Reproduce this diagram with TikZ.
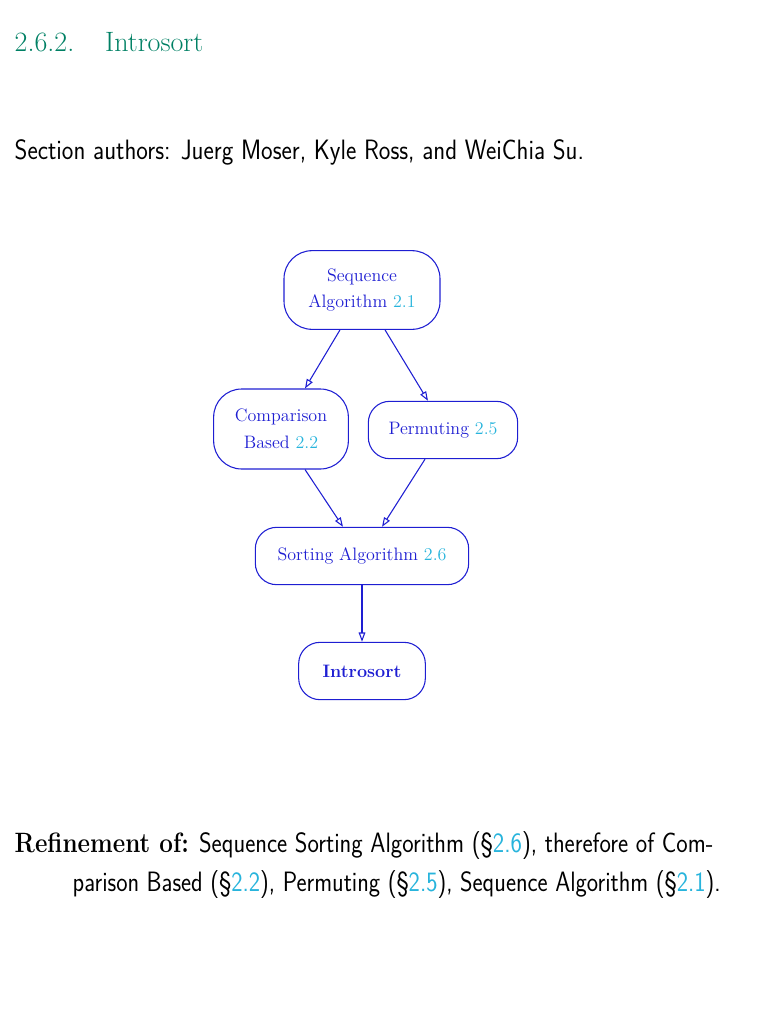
\documentclass[tikz,border=0pt]{standalone}
\usetikzlibrary{arrows.meta}
\usepackage{graphicx}
\definecolor{nb}{RGB}{30,30,210}
\definecolor{lk}{RGB}{40,180,220}
\definecolor{hd}{RGB}{0,128,100}
\begin{document}
\begin{tikzpicture}[x=0.75pt,y=-0.75pt,
  box/.style={draw=nb,text=nb,rounded corners=21pt,align=center,font=\fontsize{13.5}{20}\selectfont,line width=0.8pt},
  arr/.style={draw=nb,line width=0.8pt,-{Triangle[open,length=7pt,width=5pt]}}]
\useasboundingbox (0,0) rectangle (768,1024);
\node[anchor=west,text=hd,font=\fontsize{21}{24}\selectfont] (h) at (10,42) {2.6.2.\hspace{1.1em}Introsort};
\node[anchor=west,font=\sffamily\fontsize{21}{24}\selectfont] (a) at (10,152) {\resizebox{427pt}{\height}{Section authors: Juerg Moser, Kyle Ross, and WeiChia Su.}};
\node[box,minimum width=117pt,minimum height=59pt] (s) at (362,290) {Sequence\\Algorithm \textcolor{lk}{2.1}};
\node[box,minimum width=101pt,minimum height=60pt] (c) at (281,429) {Comparison\\Based \textcolor{lk}{2.2}};
\node[box,minimum width=112pt,minimum height=43pt,rounded corners=16pt] (p) at (443,430) {Permuting \textcolor{lk}{2.5}};
\node[box,minimum width=160pt,minimum height=43pt,rounded corners=16pt] (o) at (362,556) {Sorting Algorithm \textcolor{lk}{2.6}};
\node[box,minimum width=95pt,minimum height=43pt,rounded corners=16pt,font=\bfseries\fontsize{13.5}{20}\selectfont] (i) at (362,671) {Introsort};
\draw[arr] (s.south -| 340,0) -- (c.north -| 305,0);
\draw[arr] (s.south -| 385,0) -- (p.north -| 428,0);
\draw[arr] (c.south -| 305,0) -- (o.north -| 343,0);
\draw[arr] (p.south -| 425,0) -- (o.north -| 382,0);
\draw[arr] (o) -- (i);
\node[anchor=west,font=\sffamily\fontsize{21}{24}\selectfont] (r1) at (10,846) {\resizebox{524pt}{\height}{\textrm{\bfseries Refinement of:} Sequence Sorting Algorithm (\S\textcolor{lk}{2.6}), therefore of Com-}};
\node[anchor=west,font=\sffamily\fontsize{21}{24}\selectfont] (r2) at (68,885) {\resizebox{486pt}{\height}{parison Based (\S\textcolor{lk}{2.2}), Permuting (\S\textcolor{lk}{2.5}), Sequence Algorithm (\S\textcolor{lk}{2.1}).}};
\end{tikzpicture}
\end{document}
